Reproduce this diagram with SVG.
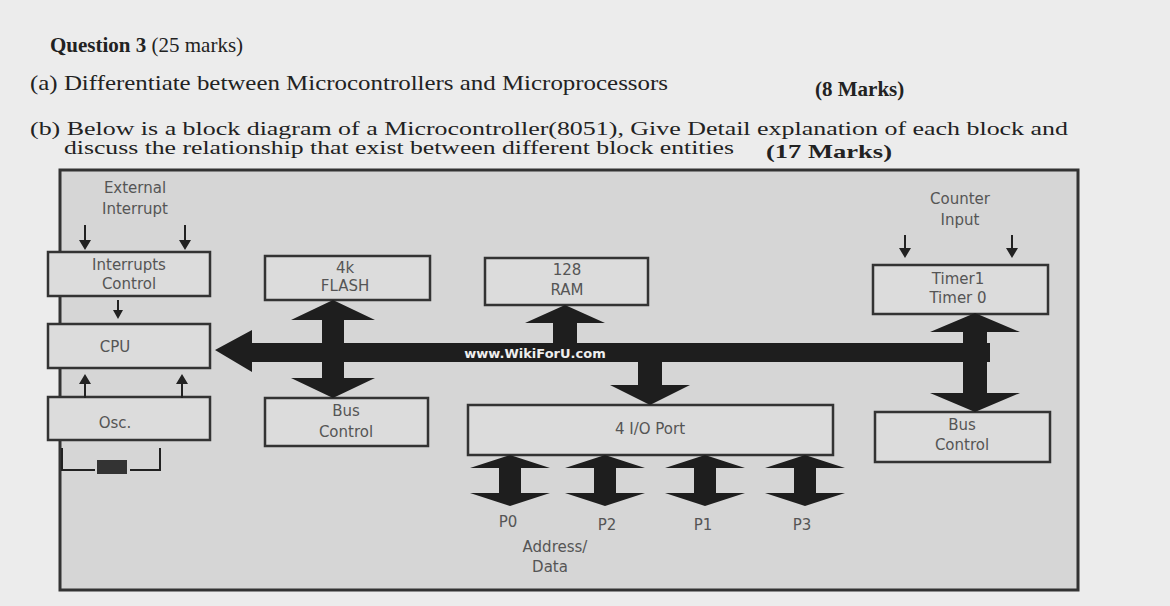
<svg xmlns="http://www.w3.org/2000/svg" width="1170" height="606" viewBox="0 0 1170 606">
<style>
.q{font-family:"Liberation Serif",serif;fill:#222;font-size:21px}
.s{font-size:19px}
.b{font-weight:bold}
.box{fill:#dcdcdc;stroke:#333;stroke-width:2.5}
.t{font-family:"DejaVu Sans",sans-serif;font-size:15px;fill:#555;text-anchor:middle}
</style>
<rect width="1170" height="606" fill="#ececec"/>
<text class="q b" x="50" y="52">Question 3 <tspan font-weight="normal">(25 marks)</tspan></text>
<text class="q" x="30" y="90" textLength="638" lengthAdjust="spacingAndGlyphs">(a) Differentiate between Microcontrollers and Microprocessors</text>
<text class="q b" x="815" y="96">(8 Marks)</text>
<text class="q s" x="30" y="135" textLength="1038" lengthAdjust="spacingAndGlyphs">(b) Below is a block diagram of a Microcontroller(8051), Give Detail explanation of each block and</text>
<text class="q s" x="64" y="154" textLength="670" lengthAdjust="spacingAndGlyphs">discuss the relationship that exist between different block entities</text>
<text class="q b s" x="766" y="158" textLength="126" lengthAdjust="spacingAndGlyphs">(17 Marks)</text>
<rect x="60" y="170" width="1018" height="420" fill="#d6d6d6" stroke="#333" stroke-width="3"/>
<g id="ext"><text class="t" x="135" y="193">External</text><text class="t" x="135" y="214">Interrupt</text></g>
<g id="cnt"><text class="t" x="960" y="204">Counter</text><text class="t" x="960" y="225">Input</text></g>
<g id="intc"><rect class="box" x="48" y="252" width="162" height="44"/><text class="t" x="129" y="270">Interrupts</text><text class="t" x="129" y="289">Control</text></g>
<g id="cpu"><rect class="box" x="48" y="324" width="162" height="44"/><text class="t" x="115" y="352">CPU</text></g>
<g id="osc"><rect class="box" x="48" y="397" width="162" height="43"/><text class="t" x="115" y="428">Osc.</text></g>
<g id="flash"><rect class="box" x="265" y="256" width="165" height="44"/><text class="t" x="345" y="273">4k</text><text class="t" x="345" y="291">FLASH</text></g>
<g id="ram"><rect class="box" x="485" y="258" width="163" height="47"/><text class="t" x="567" y="275">128</text><text class="t" x="567" y="295">RAM</text></g>
<g id="timer"><rect class="box" x="873" y="265" width="175" height="49"/><text class="t" x="958" y="284">Timer1</text><text class="t" x="958" y="303">Timer 0</text></g>
<g id="bc1"><rect class="box" x="265" y="398" width="163" height="48"/><text class="t" x="346" y="416">Bus</text><text class="t" x="346" y="437">Control</text></g>
<g id="io"><rect class="box" x="468" y="405" width="365" height="50"/><text class="t" x="650" y="434">4 I/O Port</text></g>
<g id="bc2"><rect class="box" x="875" y="412" width="175" height="50"/><text class="t" x="962" y="430">Bus</text><text class="t" x="962" y="450">Control</text></g>
<g id="ports"><text class="t" x="508" y="527">P0</text><text class="t" x="607" y="530">P2</text><text class="t" x="703" y="530">P1</text><text class="t" x="802" y="530">P3</text><text class="t" x="555" y="552">Address/</text><text class="t" x="550" y="572">Data</text></g>
<g id="connectors" stroke="#222" fill="none">
<path d="M85,225V242M185,225V242M118,300V312M905,235V250M1012,235V250M85,398V382M182,398V382" stroke-width="2"/>
<g fill="#222" stroke="none">
<path d="M79,240H91L85,250zM179,240H191L185,250zM113,310H123L118,319zM899,248H911L905,258zM1006,248H1018L1012,258zM79,384H91L85,374zM176,384H188L182,374z"/>
</g>
<path d="M62,448V470H95M130,470H160V448" stroke-width="2"/>
<rect x="97" y="460" width="30" height="14" fill="#333" stroke="none"/>
<g fill="#1e1e1e" stroke="none">
<path d="M215,350L252,330V343H990V362H252V372z"/>
<path d="M333,300L375,320H344V378H375L333,398L291,378H322V320H291z"/>
<path d="M565,305L605,323H577V345H553V323H525z"/>
<path d="M638,360H662V385H690L650,405L610,385H638z"/>
<path d="M975,313L1020,332H987V393H1020L975,412L930,393H963V332H930z"/>
<path d="M510,455L550,468H521V493H550L510,506L470,493H499V468H470z"/>
<path d="M605,455L645,468H616V493H645L605,506L565,493H594V468H565z"/>
<path d="M705,455L745,468H716V493H745L705,506L665,493H694V468H665z"/>
<path d="M805,455L845,468H816V493H845L805,506L765,493H794V468H765z"/>
</g>
</g>
<text x="535" y="358" font-family="DejaVu Sans,sans-serif" font-size="13" font-weight="bold" fill="#eee" text-anchor="middle">www.WikiForU.com</text>
</svg>
